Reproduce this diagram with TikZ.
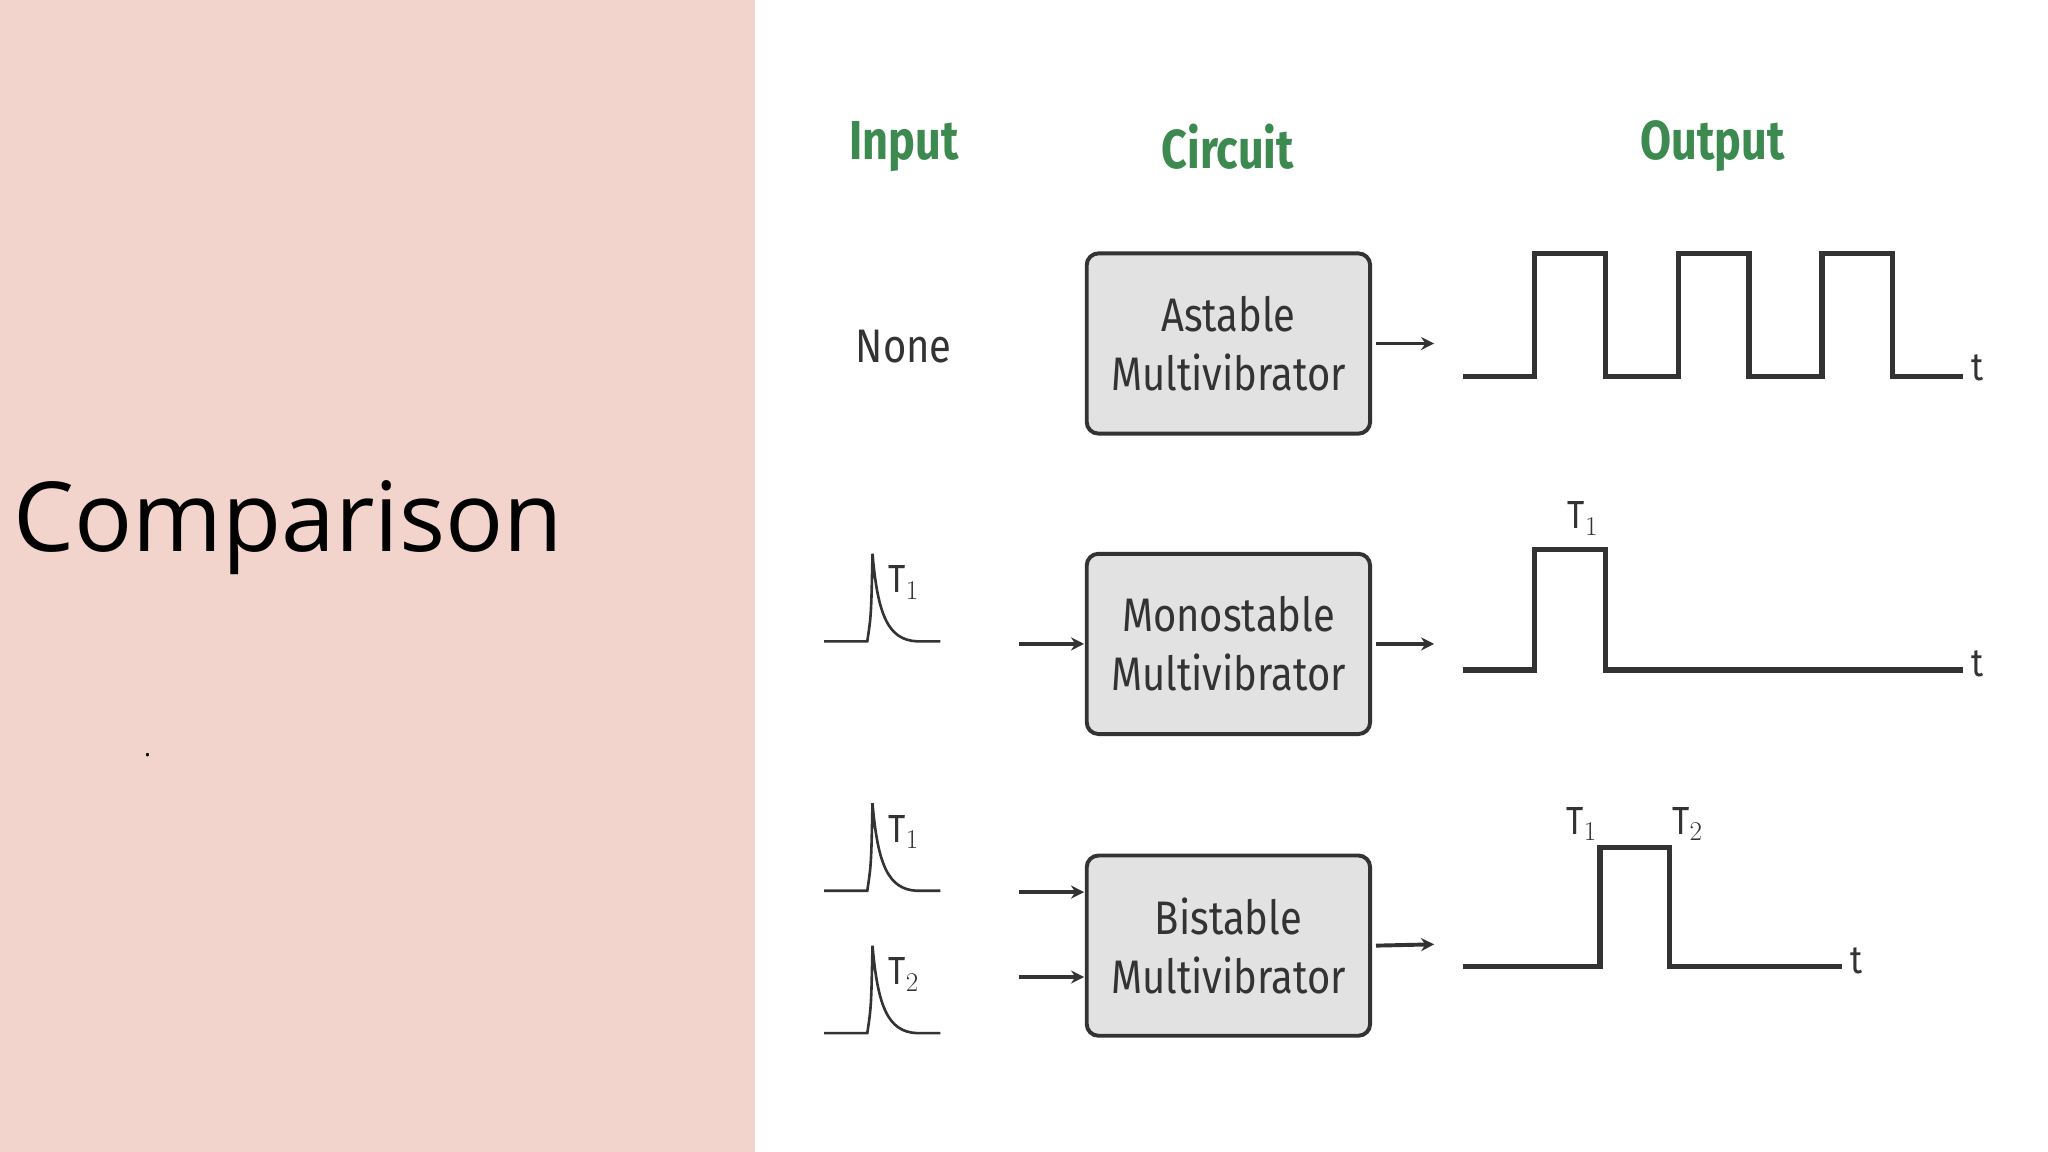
\documentclass[tikz,border=0pt]{standalone}
\usepackage{fontspec}
\setmainfont{Open Sans}
\newfontfamily\hdfont[FakeStretch=0.82]{Fira Sans}
\newfontfamily\bxfont[FakeStretch=0.85]{Fira Sans}
\usetikzlibrary{arrows.meta}
\definecolor{pinkbg}{HTML}{F2D4CC}
\definecolor{hgreen}{HTML}{3C8A50}
\definecolor{boxfill}{HTML}{E2E2E2}
\definecolor{ink}{HTML}{333333}
\begin{document}
\begin{tikzpicture}[x=1pt,y=-1pt,
  hdr/.style={font=\hdfont\bfseries\fontsize{42}{46}\selectfont, text=hgreen},
  mvbox/.style={draw=ink, line width=3pt, fill=boxfill, rounded corners=9pt, minimum width=217pt, minimum height=138pt, align=center, font=\bxfont\fontsize{36}{45}\selectfont, text=ink},
  arr/.style={draw=ink, line width=3pt, -{Stealth[length=10pt,width=10pt]}},
  wave/.style={draw=ink, line width=4pt},
  pulse/.style={draw=ink, line width=2pt},
  lab/.style={font=\bxfont\fontsize{30}{34}\selectfont, text=ink, inner sep=0pt}]
\useasboundingbox (0,0) rectangle (1568,882);
\fill[white] (0,0) rectangle (1568,882);
\fill[pinkbg] (0,0) rectangle (578,882);
\node[anchor=base west, inner sep=0pt, font=\fontsize{74}{80}\selectfont] (title) at (10,422) {Comparison};
\node[inner sep=0pt, font=\fontsize{20}{20}\selectfont] (dot) at (113,578) {.};
\node[hdr] (hin) at (692,112) {Input};
\node[hdr] (hci) at (940,112) {Circuit};
\node[hdr] (hout) at (1311,112) {Output};
\node[font=\bxfont\fontsize{36}{40}\selectfont, text=ink] (none) at (692,265) {None};
\node[mvbox] (b1) at (940.5,263) {Astable\\Multivibrator};
\node[mvbox] (b2) at (940.5,493) {Monostable\\Multivibrator};
\node[mvbox] (b3) at (940.5,724) {Bistable\\Multivibrator};
\coordinate (o1) at (1098,263); \coordinate (o2) at (1098,493); \coordinate (o3) at (1098,723);
\draw[arr] (b1.east) ++(3,0) -- (o1);
\draw[arr] (b2.east) ++(3,0) -- (o2);
\draw[arr] (b3.east) ++(3,0) -- (o3);
\coordinate (i2) at (780,493); \coordinate (i3a) at (780,683); \coordinate (i3b) at (780,748);
\draw[arr] (i2) -- (830,493);
\draw[arr] (i3a) -- (830,683);
\draw[arr] (i3b) -- (830,748);
% outputs
\draw[wave] (1120,288) -- (1175,288) -- (1175,194) -- (1229,194) -- (1229,288) -- (1285,288) -- (1285,194) -- (1339,194) -- (1339,288) -- (1395,288) -- (1395,194) -- (1449,194) -- (1449,288) -- (1503,288);
\node[lab] (t1) at (1514,282) {t};
\draw[wave] (1120,513) -- (1175,513) -- (1175,421) -- (1229,421) -- (1229,513) -- (1503,513);
\node[lab] (t2) at (1514,508) {t};
\node[lab] (m1) at (1212,397) {T$_1$};
\draw[wave] (1120,740) -- (1225,740) -- (1225,649) -- (1278,649) -- (1278,740) -- (1410,740);
\node[lab] (t3) at (1421,736) {t};
\node[lab] (bt1) at (1211,631) {T$_1$};
\node[lab] (bt2) at (1292,631) {T$_2$};
% input pulses
\foreach \yb/\nm/\tl in {491/p1/1, 682/p2/1, 791/p3/2}{
  \draw[pulse] (631,\yb) -- (664,\yb) .. controls (667,\yb-20) .. (668,\yb-67) .. controls (672,\yb-20) and (680,\yb-1) .. (702,\yb) -- (720,\yb);
  \node[lab] (\nm) at (692,\yb-45) {T$_\tl$};
}
\end{tikzpicture}
\end{document}
